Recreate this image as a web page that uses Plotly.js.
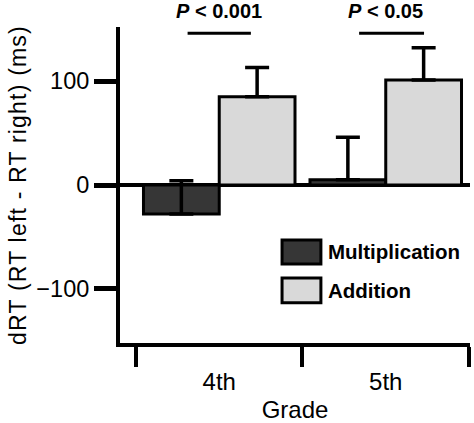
<!DOCTYPE html>
<html>
<head>
<meta charset="utf-8">
<script src="https://cdn.plot.ly/plotly-3.0.1.min.js"></script>
<style>
  html, body { margin: 0; padding: 0; background: #fff; }
  #chart { width: 474px; height: 423px; }
  /* slightly spaced y-axis title lettering */
  #chart .ytitle { letter-spacing: 1.2px; }
</style>
</head>
<body>
<div id="chart"></div>
<script>
// Lateralized RT difference by grade and operation
const grades = ['4th', '5th'];
const seriesNames = ['Multiplication', 'Addition'];
const multiplication = [-28, 5];
const multiplicationErr = [32, 41];
const addition = [85, 101];
const additionErr = [28, 31];
const pLabels = ['P < 0.001', 'P < 0.05'];
const yTicks = [-100, 0, 100];

const FONT = 'Liberation Sans, Arial, Helvetica, sans-serif';
const fills = ['#363636', '#d9d9d9'];

function barTrace(name, values, errs, color) {
  return {
    type: 'bar',
    name: name,
    x: grades,
    y: values,
    marker: { color: color, line: { color: '#000', width: 3 } },
    error_y: {
      type: 'data', symmetric: false,
      array: errs, arrayminus: values.map(() => 0),
      color: '#000', thickness: 3.5, width: 12
    },
    showlegend: false,
    hoverinfo: 'x+y'
  };
}

const data = [
  barTrace(seriesNames[0], multiplication, multiplicationErr, fills[0]),
  barTrace(seriesNames[1], addition, additionErr, fills[1])
];

// significance bars and labels above each grade
const sigX = [[-0.19, 0.19], [-0.16, 0.23]];
const shapes = [];
const annotations = [];
grades.forEach((g, i) => {
  shapes.push({
    type: 'line', xref: 'x', yref: 'y',
    x0: i + sigX[i][0], x1: i + sigX[i][1], y0: 146, y1: 146,
    line: { color: '#000', width: 3 }
  });
  const parts = pLabels[i].split(' ');
  annotations.push({
    xref: 'x', yref: 'paper', x: i, y: 1.05,
    yanchor: 'middle', xanchor: 'center', showarrow: false,
    text: '<b><i>' + parts[0] + '</i> &lt; ' + parts[2] + '</b>',
    font: { family: FONT, size: 20, color: '#000' }
  });
});

// legend drawn as swatches with labels
const legendRows = [[0.326, 0.250], [0.206, 0.127]];
seriesNames.forEach((name, i) => {
  shapes.push({
    type: 'rect', xref: 'paper', yref: 'paper',
    x0: 0.463, x1: 0.574, y0: legendRows[i][1], y1: legendRows[i][0],
    fillcolor: fills[i], line: { color: '#000', width: 3 }
  });
  annotations.push({
    xref: 'paper', yref: 'paper', x: 0.588, y: (legendRows[i][0] + legendRows[i][1]) / 2,
    xanchor: 'left', yanchor: 'middle', showarrow: false,
    text: '<b>' + name + '</b>',
    font: { family: FONT, size: 20.5, color: '#000' }
  });
});

const layout = {
  width: 474, height: 423,
  margin: { l: 120, r: 4, t: 27, b: 80 },
  paper_bgcolor: '#fff', plot_bgcolor: '#fff',
  font: { family: FONT, color: '#000' },
  barmode: 'group', bargap: 0.09, bargroupgap: 0,
  xaxis: {
    type: 'category',
    range: [-0.596, 1.506],
    showline: true, linecolor: '#000', linewidth: 4,
    ticks: 'outside', tickson: 'boundaries', ticklen: 20, tickwidth: 4, tickcolor: '#000',
    ticklabelstandoff: 14,
    tickfont: { family: FONT, size: 24, color: '#000' },
    showgrid: false, zeroline: false,
    title: { text: 'Grade', font: { family: FONT, size: 24, color: '#000' }, standoff: 14 }
  },
  yaxis: {
    range: [-152, 152],
    tickvals: yTicks,
    showline: true, linecolor: '#000', linewidth: 4,
    ticks: 'outside', ticklen: 22, tickwidth: 5, tickcolor: '#000',
    tickfont: { family: FONT, size: 23.5, color: '#000' },
    showgrid: false,
    zeroline: true, zerolinecolor: '#000', zerolinewidth: 4,
    title: { text: 'dRT (RT left - RT right) (ms)', font: { family: FONT, size: 23, color: '#000' }, standoff: 4 }
  },
  shapes: shapes,
  annotations: annotations
};

Plotly.newPlot('chart', data, layout, { displayModeBar: false, staticPlot: true });
</script>
</body>
</html>
